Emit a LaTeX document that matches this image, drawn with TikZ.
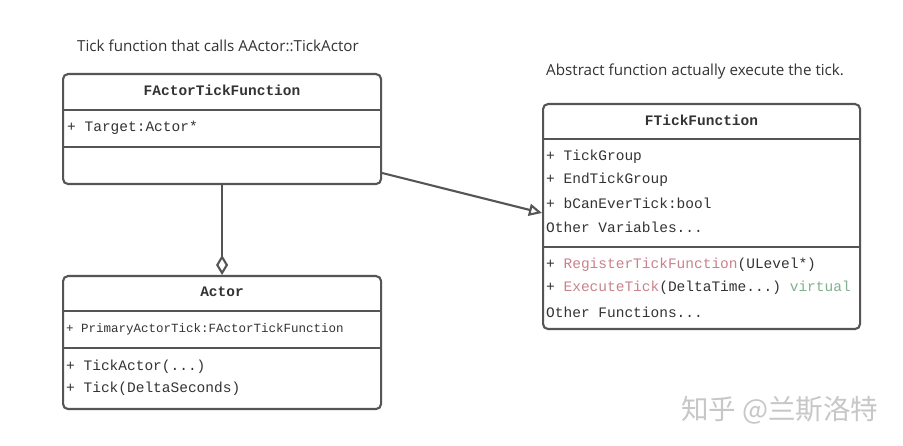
\documentclass[tikz,border=0pt]{standalone}
\usepackage{fontspec}
\setmainfont{Open Sans}
\setmonofont{Liberation Mono}
\newfontfamily\cjkfont{Noto Sans CJK SC}
\usetikzlibrary{arrows.meta,calc}
\definecolor{linec}{HTML}{555555}
\definecolor{txtc}{HTML}{333333}
\definecolor{fnred}{HTML}{C9828B}
\definecolor{virtgreen}{HTML}{7FB28C}
\tikzset{
  classbox/.style={draw=linec, line width=2.1pt, rounded corners=5pt, fill=white, anchor=north west, inner sep=0pt},
  divider/.style={draw=linec, line width=2.1pt},
  member/.style={anchor=west, inner sep=0pt, text=txtc, font=\ttfamily\fontsize{14.5}{16}\selectfont},
  smallmember/.style={anchor=west, inner sep=0pt, text=txtc, font=\ttfamily\fontsize{12.5}{14}\selectfont},
  title/.style={anchor=center, inner sep=0pt, text=txtc, font=\ttfamily\bfseries\fontsize{14.5}{16}\selectfont},
  caption/.style={anchor=west, inner sep=0pt, text=txtc, font=\fontsize{15.2}{17}\selectfont},
  connector/.style={draw=linec, line width=2.1pt}
}
\begin{document}
\begin{tikzpicture}[x=1pt,y=-1pt]
\path[fill=white] (0,0) rectangle (903,446);
\useasboundingbox (0,0) rectangle (903,446);

% captions
\node[caption] (cap1) at (77,46) {Tick function that calls AActor::TickActor};
\node[caption] (cap2) at (546,72) {Abstract function actually execute the tick.};

% FActorTickFunction
\node[classbox, minimum width=318pt, minimum height=110pt] (b1) at (62,73) {};
\draw[divider] ($(b1.north west)+(0,37)$) -- ($(b1.north east)+(0,37)$);
\draw[divider] ($(b1.north west)+(0,74)$) -- ($(b1.north east)+(0,74)$);
\node[title] (b1t) at ($(b1.north)+(0,17)$) {FActorTickFunction};
\node[member] (b1m1) at ($(b1.north west)+(5,55)$) {+ Target:Actor*};

% Actor
\node[classbox, minimum width=318pt, minimum height=133pt] (b3) at (62,275) {};
\draw[divider] ($(b3.north west)+(0,36)$) -- ($(b3.north east)+(0,36)$);
\draw[divider] ($(b3.north west)+(0,73)$) -- ($(b3.north east)+(0,73)$);
\node[title] (b3t) at ($(b3.north)+(0,17)$) {Actor};
\node[smallmember] (b3m1) at ($(b3.north west)+(4,54)$) {+ PrimaryActorTick:FActorTickFunction};
\node[member] (b3f1) at ($(b3.north west)+(4,92)$) {+ TickActor(...)};
\node[member] (b3f2) at ($(b3.north west)+(4,114)$) {+ Tick(DeltaSeconds)};

% FTickFunction
\node[classbox, minimum width=317pt, minimum height=225pt] (b2) at (542,103) {};
\draw[divider] ($(b2.north west)+(0,36)$) -- ($(b2.north east)+(0,36)$);
\draw[divider] ($(b2.north west)+(0,144)$) -- ($(b2.north east)+(0,144)$);
\node[title] (b2t) at ($(b2.north)+(0,17)$) {FTickFunction};
\node[member] (b2m1) at ($(b2.north west)+(4,54)$) {+ TickGroup};
\node[member] (b2m2) at ($(b2.north west)+(4,77)$) {+ EndTickGroup};
\node[member] (b2m3) at ($(b2.north west)+(4,100)$) {+ bCanEverTick:bool};
\node[member] (b2m4) at ($(b2.north west)+(4,124)$) {Other Variables...};
\node[member] (b2f1) at ($(b2.north west)+(4,162)$) {+ \textcolor{fnred}{RegisterTickFunction}(ULevel*)};
\node[member] (b2f2) at ($(b2.north west)+(4,185)$) {+ \textcolor{fnred}{ExecuteTick}(DeltaTime...) \textcolor{virtgreen}{virtual}};
\node[member] (b2f3) at ($(b2.north west)+(4,209)$) {Other Functions...};

% connectors
\draw[connector, -{Diamond[open, length=20pt, width=12pt, line width=2.1pt]}] (b1.south) -- (b3.north);
\draw[connector, -{Triangle[open, length=13pt, width=12pt, line width=2.1pt]}] ($(b1.north east)+(0,100)$) -- ($(b2.north west)+(0,110)$);

% watermark
\node[anchor=west, inner sep=0pt, text=black!22, font=\cjkfont\fontsize{27.5}{30}\selectfont] (wm) at (681,410) {知乎 @兰斯洛特};
\end{tikzpicture}
\end{document}
